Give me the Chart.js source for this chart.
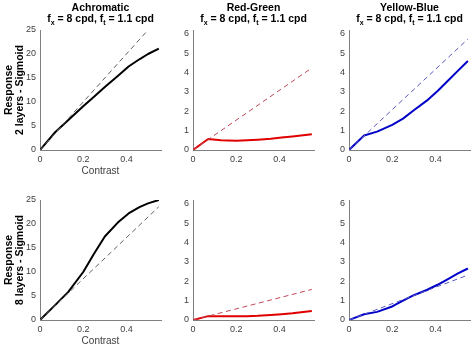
<!DOCTYPE html>
<html>
<head>
<meta charset="utf-8">
<script src="https://cdn.jsdelivr.net/npm/chart.js@4"></script>
<style>
  html, body { margin: 0; padding: 0; background: #fff; }
  body { width: 474px; height: 347px; position: relative; overflow: hidden;
         font-family: "Liberation Sans", Arial, sans-serif; }
  canvas { position: absolute; }
  .ttl { position: absolute; width: 170px; text-align: center; font-weight: bold;
         font-size: 10.5px; line-height: 11px; color: #000; white-space: nowrap; }
  .ttl .s { font-size: 7px; vertical-align: -3px; line-height: 0; }
  .ylab { position: absolute; width: 150px; height: 22px; text-align: center; font-weight: bold;
          font-size: 10.5px; line-height: 11px; color: #000; transform: rotate(-90deg);
          white-space: nowrap; }
  .xlab { position: absolute; width: 100px; text-align: center; font-size: 10px;
          line-height: 12px; color: #404040; }
</style>
</head>
<body>
<script>
// Contrast levels at which the model responses were evaluated
const contrast = [0, 0.07, 0.13, 0.2, 0.25, 0.3, 0.36, 0.41, 0.46, 0.5, 0.55];

// Responses, 2 layers - Sigmoid
const achrom2 = [0, 3.7, 6.2, 9.1, 11.1, 13.1, 15.4, 17.4, 18.9, 20.0, 21.1];
const redGreen2 = [0, 0.57, 0.5, 0.48, 0.5, 0.53, 0.58, 0.64, 0.7, 0.75, 0.81];
const yellowBlue2 = [0, 0.75, 0.95, 1.3, 1.62, 2.05, 2.55, 3.05, 3.6, 4.05, 4.6];

// Responses, 8 layers - Sigmoid
const achrom8 = [0, 3.1, 5.8, 10.0, 13.8, 17.4, 20.3, 22.2, 23.5, 24.3, 25.0];
const redGreen8 = [0, 0.2, 0.2, 0.19, 0.2, 0.22, 0.26, 0.3, 0.35, 0.4, 0.47];
const yellowBlue8 = [0, 0.3, 0.42, 0.7, 1.0, 1.28, 1.55, 1.82, 2.13, 2.38, 2.66];

// Linear reference lines (dashed): contrast end points and responses
const refContrast = [0, 0.55];
const refAchrom2 = [0, 27.5];
const refRedGreen2 = [0, 4.24];
const refYellowBlue2 = [0, 5.73];
const refAchrom8 = [0, 23.6];
const refRedGreen8 = [0, 1.58];
const refYellowBlue8 = [0, 2.32];

// Axis ranges and ticks
const contrastMax = 0.56;
const contrastTicks = [0, 0.2, 0.4];
const achromMax = 25;
const achromStep = 5;
const colourMax = 6.2;
const colourStep = 1;

const columnTitles = ['Achromatic', 'Red-Green', 'Yellow-Blue'];
const rowLabels = ['2 layers - Sigmoid', '8 layers - Sigmoid'];

const FONT = '"Liberation Sans", Arial, sans-serif';
const AXIS_COLOR = '#808080';
const TICK_COLOR = '#404040';

const colourStyles = {
  achrom: { solid: '#000000', dashed: '#606060' },
  red: { solid: '#e00000', dashed: '#c04858' },
  blue: { solid: '#0000c8', dashed: '#5a5ac0' }
};

function pairs(xs, ys) {
  return xs.map((x, i) => ({ x: x, y: ys[i] }));
}

function makePanel(plotLeft, plotTop, values, ref, style, yMax, yStep) {
  const yAxisW = 40, xAxisH = 20, padTop = 10, padRight = 10;
  const plotW = 121, plotH = 120;
  const cv = document.createElement('canvas');
  const w = yAxisW + plotW + padRight, h = padTop + plotH + xAxisH;
  cv.width = w; cv.height = h;
  cv.style.left = (plotLeft - yAxisW) + 'px';
  cv.style.top = (plotTop - padTop) + 'px';
  cv.style.width = w + 'px'; cv.style.height = h + 'px';
  document.body.appendChild(cv);

  new Chart(cv.getContext('2d'), {
    type: 'line',
    data: {
      datasets: [
        {
          data: pairs(refContrast, ref),
          borderColor: style.dashed,
          borderWidth: 1,
          borderDash: [5, 3.5],
          pointRadius: 0,
          tension: 0
        },
        {
          data: pairs(contrast, values),
          borderColor: style.solid,
          borderWidth: 2,
          pointRadius: 0,
          tension: 0,
          borderJoinStyle: 'round'
        }
      ]
    },
    options: {
      responsive: false,
      animation: false,
      devicePixelRatio: 1,
      layout: { padding: { top: padTop, right: padRight, left: 0, bottom: 0 } },
      plugins: { legend: { display: false }, tooltip: { enabled: false } },
      scales: {
        x: {
          type: 'linear',
          min: 0,
          max: contrastMax,
          afterBuildTicks: s => { s.ticks = contrastTicks.map(v => ({ value: v })); },
          ticks: { color: TICK_COLOR, font: { family: FONT, size: 9 }, padding: 4, maxRotation: 0 },
          grid: { display: false, drawTicks: false, tickLength: 0 },
          border: { display: true, color: AXIS_COLOR, width: 1 },
          afterFit: s => { s.height = xAxisH; }
        },
        y: {
          type: 'linear',
          min: 0,
          max: yMax,
          ticks: { stepSize: yStep, includeBounds: false, color: TICK_COLOR,
                   font: { family: FONT, size: 9 }, padding: 4 },
          grid: { display: false, drawTicks: false, tickLength: 0 },
          border: { display: true, color: AXIS_COLOR, width: 1 },
          afterFit: s => { s.width = yAxisW; }
        }
      }
    }
  });
}

// Plot-area origins of the six panels
const colLeft = [40, 193, 349];
const rowTop = [30, 200];

makePanel(colLeft[0], rowTop[0], achrom2, refAchrom2, colourStyles.achrom, achromMax, achromStep);
makePanel(colLeft[1], rowTop[0], redGreen2, refRedGreen2, colourStyles.red, colourMax, colourStep);
makePanel(colLeft[2], rowTop[0], yellowBlue2, refYellowBlue2, colourStyles.blue, colourMax, colourStep);
makePanel(colLeft[0], rowTop[1], achrom8, refAchrom8, colourStyles.achrom, achromMax, achromStep);
makePanel(colLeft[1], rowTop[1], redGreen8, refRedGreen8, colourStyles.red, colourMax, colourStep);
makePanel(colLeft[2], rowTop[1], yellowBlue8, refYellowBlue8, colourStyles.blue, colourMax, colourStep);

// Column titles
columnTitles.forEach((t, i) => {
  const d = document.createElement('div');
  d.className = 'ttl';
  d.style.left = (colLeft[i] + 60.5 - 85) + 'px';
  d.style.top = '2px';
  d.innerHTML = t + '<br>f<span class="s">x</span> = 8 cpd, f<span class="s">t</span> = 1.1 cpd';
  document.body.appendChild(d);
});

// Row labels (rotated)
rowLabels.forEach((t, i) => {
  const d = document.createElement('div');
  d.className = 'ylab';
  const cx = 14, cy = rowTop[i] + 60;
  d.style.left = (cx - 75) + 'px';
  d.style.top = (cy - 11) + 'px';
  d.innerHTML = 'Response<br>' + t;
  document.body.appendChild(d);
});

// x-axis labels under the achromatic panels
rowTop.forEach(top => {
  const d = document.createElement('div');
  d.className = 'xlab';
  d.style.left = (colLeft[0] + 60.5 - 50) + 'px';
  d.style.top = (top + 120 + 21 - 6) + 'px';
  d.textContent = 'Contrast';
  document.body.appendChild(d);
});
</script>
</body>
</html>
